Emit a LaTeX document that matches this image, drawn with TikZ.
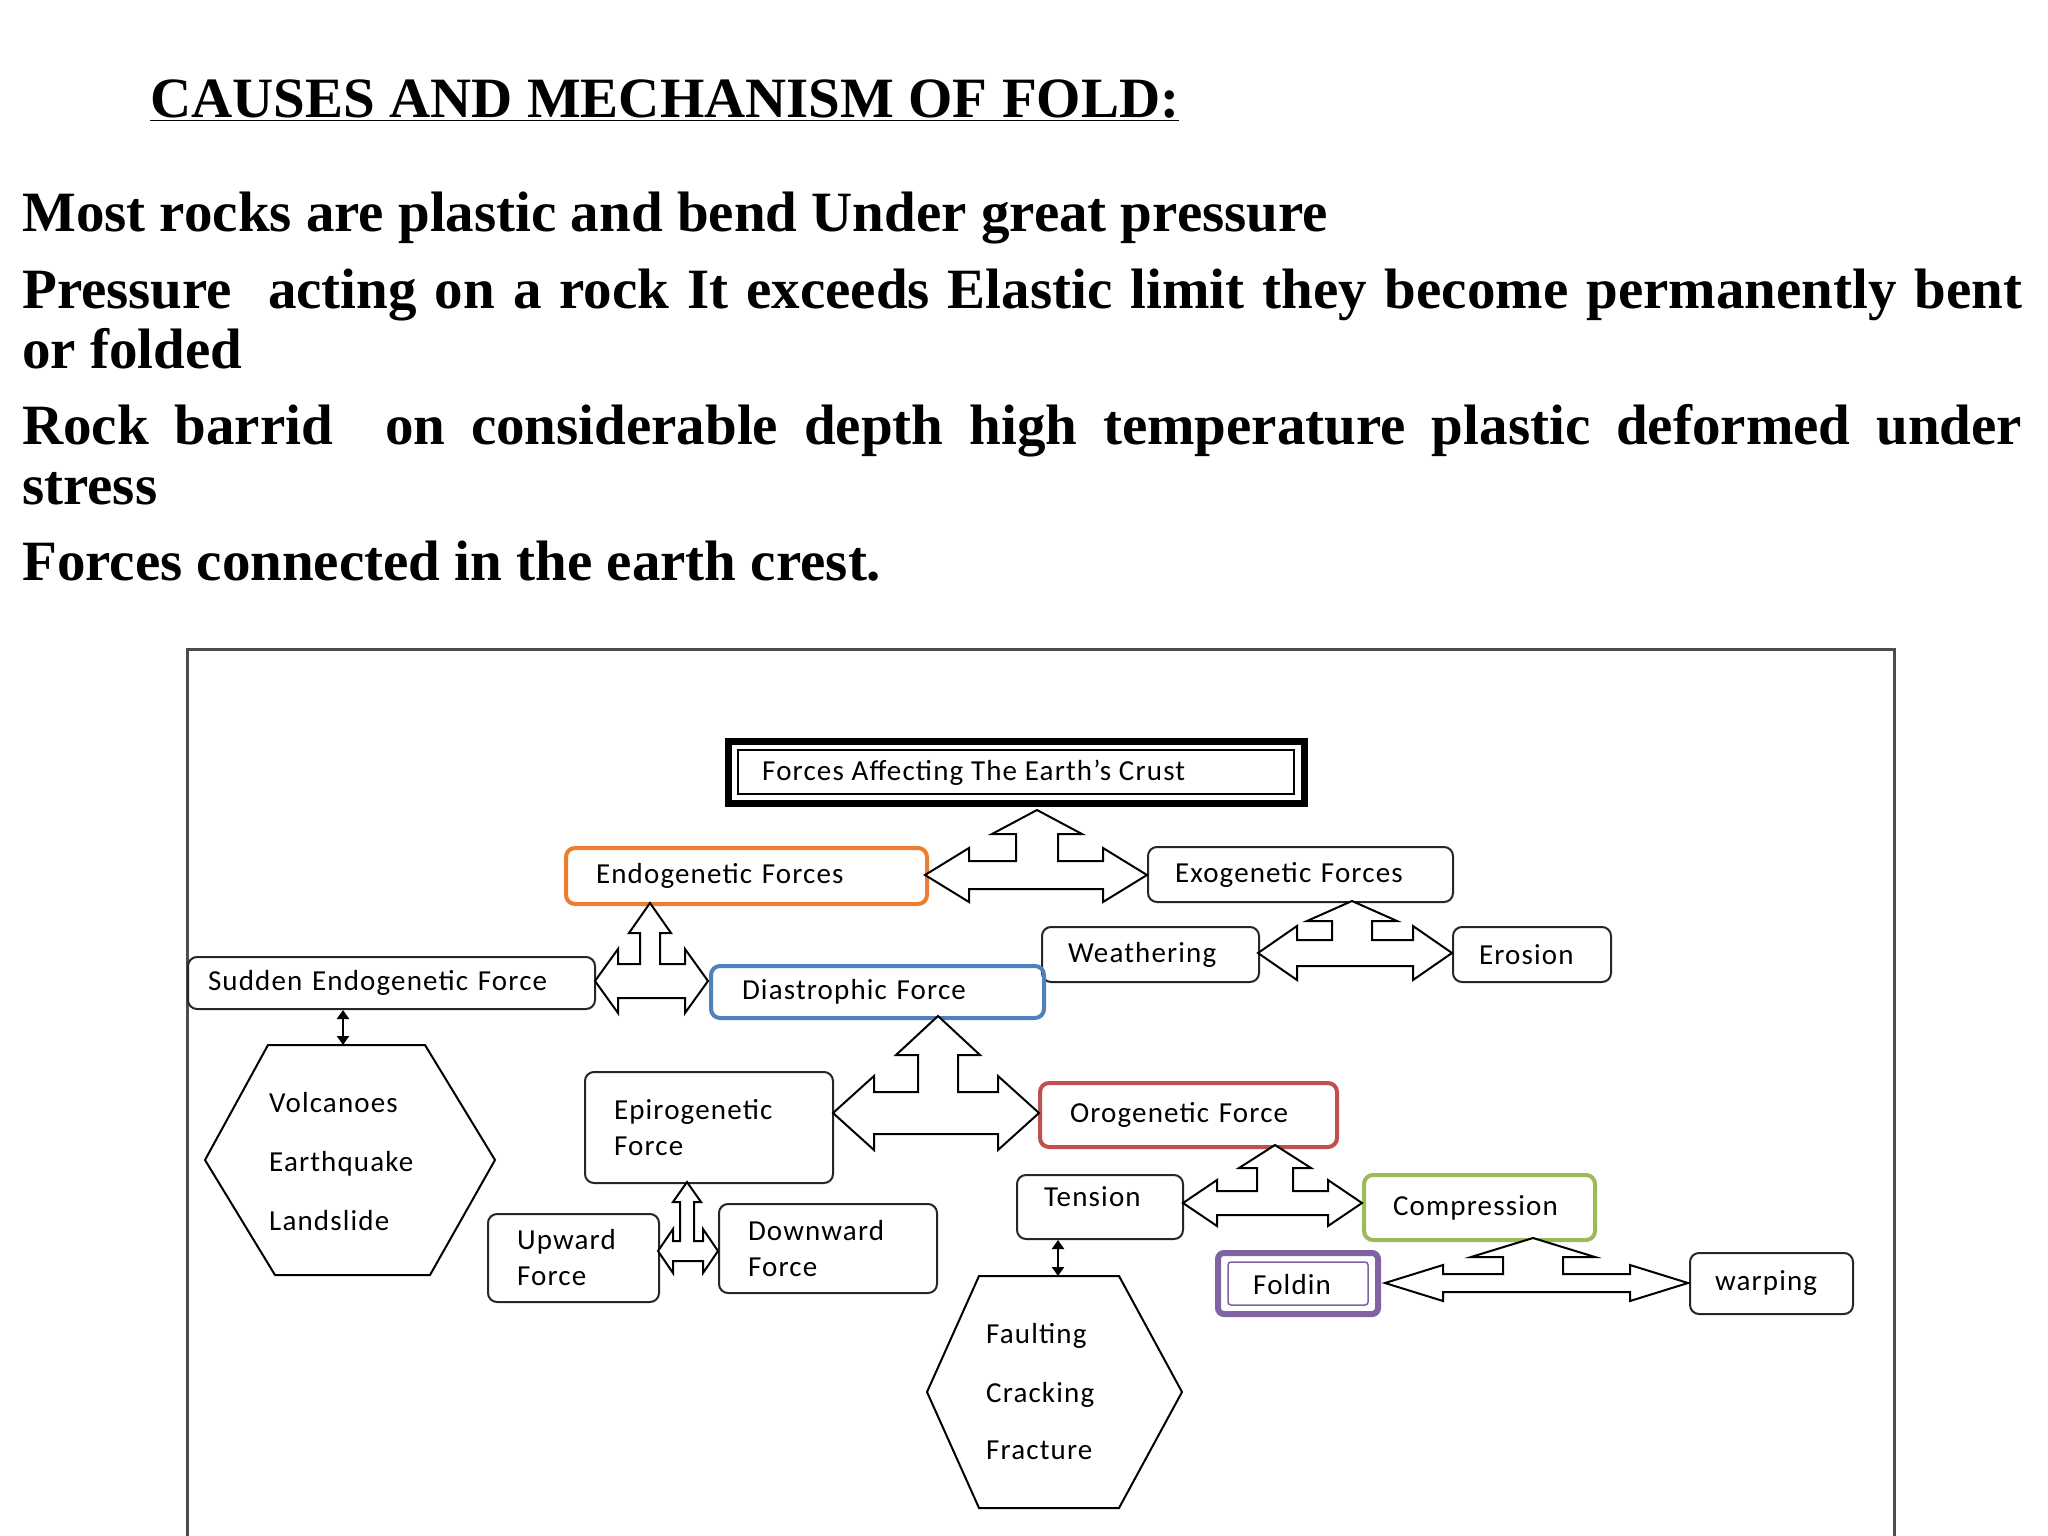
\documentclass[tikz,border=0pt]{standalone}
\usepackage{fontspec}
\setmainfont{Liberation Serif}
\newfontfamily\calfont[LetterSpace=4]{Carlito}
\usetikzlibrary{arrows.meta}
\definecolor{corange}{RGB}{237,125,49}
\definecolor{cblue}{RGB}{79,129,189}
\definecolor{cred}{RGB}{192,80,77}
\definecolor{cgreen}{RGB}{155,187,89}
\definecolor{cpurple}{RGB}{128,100,162}
\tikzset{
 bx/.style={draw=black!85,line width=2pt,rounded corners=9pt,align=left,anchor=north west,inner ysep=0pt,font=\calfont\fontsize{29}{36}\selectfont},
 blk/.style={draw=black,line width=2pt,fill=white,line join=miter},
 body/.style={anchor=base west,inner sep=0pt,font=\bfseries\fontsize{57}{66}\selectfont},
 hx/.style={anchor=base west,inner sep=0pt,font=\calfont\fontsize{29}{34}\selectfont},
 dbl/.style={line width=2.5pt,{Triangle[length=9pt,width=12pt]}-{Triangle[length=9pt,width=12pt]}}
}
\newcommand{\bxx}[8]{%
 \pgfmathsetmacro{\tw}{#4-#2-2*#6}\pgfmathsetmacro{\th}{#5-#3}%
 \node[bx,#7,inner xsep=#6pt,text width=\tw pt,minimum height=\th pt] (#1) at (#2,#3) {#8};}
% \tarrow{W}{Lu}{name}{xL}{xR}{yc}{xm}{ytop}{h}{H}{L}{w}
\newcommand{\tarrow}[3]{\def\aW{#1}\def\aLu{#2}\def\aname{#3}\tarrowB}
\newcommand{\tarrowB}[9]{%
 \draw[blk] (#1,#3) -- ({#1+#8},{#3-#7}) -- ({#1+#8},{#3-#6}) -- ({#4-#9},{#3-#6}) -- ({#4-#9},{#5+\aLu}) -- ({#4-\aW},{#5+\aLu}) -- (#4,#5) -- ({#4+\aW},{#5+\aLu}) -- ({#4+#9},{#5+\aLu}) -- ({#4+#9},{#3-#6}) -- ({#2-#8},{#3-#6}) -- ({#2-#8},{#3-#7}) -- (#2,#3) -- ({#2-#8},{#3+#7}) -- ({#2-#8},{#3+#6}) -- ({#1+#8},{#3+#6}) -- ({#1+#8},{#3+#7}) -- cycle;
 \coordinate (\aname) at (#4,#3);}
\begin{document}
\begin{tikzpicture}[x=1pt,y=-1pt]
\useasboundingbox (0,0) rectangle (2048,1536);
\fill[white] (0,0) rectangle (2048,1536);
\node[body] (title) at (150,118) {\underline{CAUSES AND MECHANISM OF FOLD:}};
\node[body] (l1) at (22,231) {Most rocks are plastic and bend Under great pressure};
\node[body] (l2) at (22,308) {\makebox[2000pt][s]{Pressure \ acting on a rock It exceeds Elastic limit they become permanently bent}};
\node[body] (l2b) at (22,368) {or folded};
\node[body] (l3) at (22,444) {\makebox[2000pt][s]{Rock barrid \ on considerable depth high temperature plastic deformed under}};
\node[body] (l3b) at (22,504) {stress};
\node[body] (l4) at (22,580) {Forces connected in the earth crest.};
\draw[black!70,line width=3pt] (187,1545) -- (187,649) -- (1894,649) -- (1894,1545);
\draw[line width=7pt] (728,741) rectangle (1304,803);
\draw[line width=1.5pt] (738,750) rectangle (1294,794);
\node[anchor=west,inner sep=0pt,font=\calfont\fontsize{29}{34}\selectfont] (forces) at (762,773) {Forces Affecting The Earth’s Crust};
\bxx{endo}{564}{846}{925}{902}{30}{draw=corange,line width=4pt}{Endogenetic Forces}
\bxx{exo}{1147}{846}{1452}{901}{27}{}{Exogenetic Forces}
\bxx{weat}{1041}{926}{1258}{981}{26}{}{Weathering}
\bxx{eros}{1452}{926}{1610}{981}{26}{}{Erosion}
\bxx{sudden}{187}{956}{594}{1008}{20}{}{Sudden Endogenetic Force}
\bxx{dias}{709}{964}{1042}{1016}{31}{draw=cblue,line width=4pt}{Diastrophic Force}
\bxx{epi}{584}{1071}{832}{1182}{29}{}{Epirogenetic\\Force}
\bxx{oro}{1038}{1081}{1335}{1145}{30}{draw=cred,line width=4pt}{Orogenetic Force}
\bxx{up}{487}{1213}{658}{1301}{29}{}{Upward\\Force}
\bxx{down}{718}{1203}{936}{1292}{29}{}{Downward\\Force}
\node[bx,minimum width=166pt,minimum height=64pt,inner xsep=27pt,text width=112pt,align=left,anchor=north west,text depth=20pt] (tens) at (1016,1174) {Tension};
\bxx{comp}{1362}{1173}{1593}{1238}{29}{draw=cgreen,line width=4pt}{Compression}
\bxx{warp}{1689}{1252}{1852}{1313}{25}{}{warping}
\draw[cpurple,line width=6pt,rounded corners=6pt] (1218,1253) rectangle (1378,1314);
\draw[cpurple,line width=1.5pt,rounded corners=3pt] (1228,1262) rectangle (1368,1305);
\node[anchor=west,inner sep=0pt,font=\calfont\fontsize{29}{34}\selectfont] (fold) at (1253,1285) {Foldin};
\draw[line width=2pt] (205,1160) -- (268,1045) -- (425,1045) -- (495,1160) -- (430,1275) -- (275,1275) -- cycle;
\coordinate (h1top) at (343,1045);
\node[hx] (v1) at (269,1112) {Volcanoes};
\node[hx] (v2) at (269,1171) {Earthquake};
\node[hx] (v3) at (269,1230) {Landslide};
\draw[line width=2pt] (927,1392) -- (979,1276) -- (1119,1276) -- (1182,1392) -- (1119,1508) -- (979,1508) -- cycle;
\coordinate (h2top) at (1058,1276);
\node[hx] (f1) at (986,1343) {Faulting};
\node[hx] (f2) at (986,1402) {Cracking};
\node[hx] (f3) at (986,1459) {Fracture};
\draw[dbl] (sudden.south -| h1top) -- (h1top);
\draw[dbl] (tens.south -| h2top) -- (h2top);
\tarrow{45}{24}{a1}{925}{1147}{875}{1037}{810}{14}{27}{44}{21}
\tarrow{21}{30}{a2}{595}{708}{981}{650}{903}{17}{32}{23}{10}
\tarrow{42}{39}{a3}{833}{1039}{1113}{938}{1016}{21}{37}{41}{20}
\tarrow{45}{20}{a4}{1258}{1452}{953}{1352}{901}{13}{27}{39}{20}
\tarrow{36}{23}{a5}{1183}{1362}{1203}{1275}{1145}{12}{23}{34}{18}
\tarrow{62}{19}{a6}{1385}{1688}{1283}{1533}{1238}{9}{18}{58}{30}
\tarrow{14}{20}{a7}{658}{718}{1251}{687}{1182}{10}{22}{15}{7}
\end{tikzpicture}
\end{document}
